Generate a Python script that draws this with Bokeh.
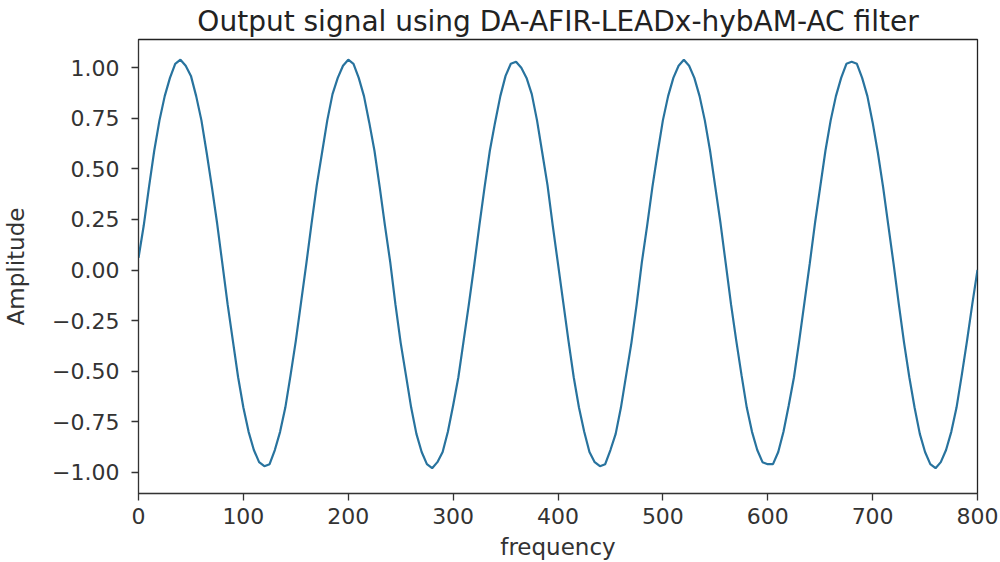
from bokeh.plotting import figure
from bokeh.models import CustomJSTickFormatter, FixedTicker, Range1d
from bokeh.embed import file_html
from bokeh.resources import INLINE

# output signal, every 5 units of "frequency"
freq = list(range(0, 805, 5))
amp = [
    0.06, 0.22, 0.41, 0.59, 0.74, 0.86, 0.95, 1.02, 1.04, 1.01, 0.96, 0.86, 0.74, 0.58, 0.41, 0.23,
    0.03, -0.17, -0.35, -0.53, -0.68, -0.80, -0.89, -0.95, -0.97, -0.96, -0.89, -0.80, -0.68, -0.52, -0.35, -0.16,
    0.03, 0.23, 0.42, 0.58, 0.74, 0.87, 0.95, 1.01, 1.04, 1.02, 0.95, 0.86, 0.73, 0.59, 0.41, 0.22,
    0.04, -0.17, -0.36, -0.52, -0.68, -0.81, -0.90, -0.96, -0.98, -0.95, -0.90, -0.80, -0.67, -0.53, -0.35, -0.17,
    0.02, 0.22, 0.41, 0.59, 0.73, 0.86, 0.96, 1.02, 1.03, 1.00, 0.95, 0.87, 0.74, 0.58, 0.42, 0.22,
    0.03, -0.16, -0.35, -0.53, -0.68, -0.80, -0.90, -0.95, -0.97, -0.96, -0.89, -0.81, -0.68, -0.52, -0.36, -0.17,
    0.04, 0.22, 0.41, 0.58, 0.74, 0.86, 0.95, 1.01, 1.04, 1.01, 0.95, 0.86, 0.74, 0.59, 0.41, 0.23,
    0.03, -0.17, -0.35, -0.52, -0.68, -0.80, -0.89, -0.95, -0.96, -0.96, -0.90, -0.80, -0.67, -0.53, -0.35, -0.16,
    0.03, 0.23, 0.41, 0.59, 0.74, 0.86, 0.95, 1.02, 1.03, 1.02, 0.95, 0.86, 0.73, 0.58, 0.41, 0.22,
    0.03, -0.17, -0.36, -0.53, -0.68, -0.81, -0.90, -0.96, -0.98, -0.95, -0.89, -0.80, -0.68, -0.52, -0.35, -0.17,
    0.00,
]
x_ticks = [0, 100, 200, 300, 400, 500, 600, 700, 800]
y_ticks = [-1.0, -0.75, -0.5, -0.25, 0.0, 0.25, 0.5, 0.75, 1.0]

p = figure(title="Output signal using DA-AFIR-LEADx-hybAM-AC filter",
           width=1000, height=562, output_backend="svg", toolbar_location=None,
           x_axis_label="frequency", y_axis_label="Amplitude",
           min_border_left=137, min_border_right=23, min_border_top=38, min_border_bottom=69)
p.x_range = Range1d(0, 800)
p.y_range = Range1d(-1.105, 1.14)

p.line(freq, amp, line_width=2.2, color="#28739e")

# matplotlib look
p.title.align = "center"
p.title.text_font = "DejaVu Sans"
p.title.text_font_size = "28px"
p.title.text_font_style = "normal"
p.title.text_color = "#222222"
p.title.standoff = 4
p.outline_line_color = "#222222"
p.outline_line_width = 1.3
p.xgrid.visible = False
p.ygrid.visible = False

p.xaxis.ticker = FixedTicker(ticks=x_ticks)
p.yaxis.ticker = FixedTicker(ticks=y_ticks)
p.yaxis.formatter = CustomJSTickFormatter(code="return tick.toFixed(2).replace('-', '\u2212');")
for ax in (p.xaxis, p.yaxis):
    ax.major_label_text_font = "DejaVu Sans"
    ax.major_label_text_font_size = "22px"
    ax.major_label_text_color = "#333333"
    ax.axis_label_text_font = "DejaVu Sans"
    ax.axis_label_text_font_size = "23px"
    ax.axis_label_text_font_style = "normal"
    ax.axis_label_text_color = "#333333"
    ax.minor_tick_line_color = None
    ax.major_tick_out = 7
    ax.major_tick_in = 0
    ax.major_tick_line_width = 1.3
    ax.major_tick_line_color = "#333333"
    ax.axis_line_color = "#333333"
p.xaxis.major_label_standoff = 7
p.xaxis.axis_label_standoff = 7
p.yaxis.major_label_standoff = 12
p.yaxis.axis_label_standoff = 20

open("out.html", "w").write(file_html(p, INLINE))
